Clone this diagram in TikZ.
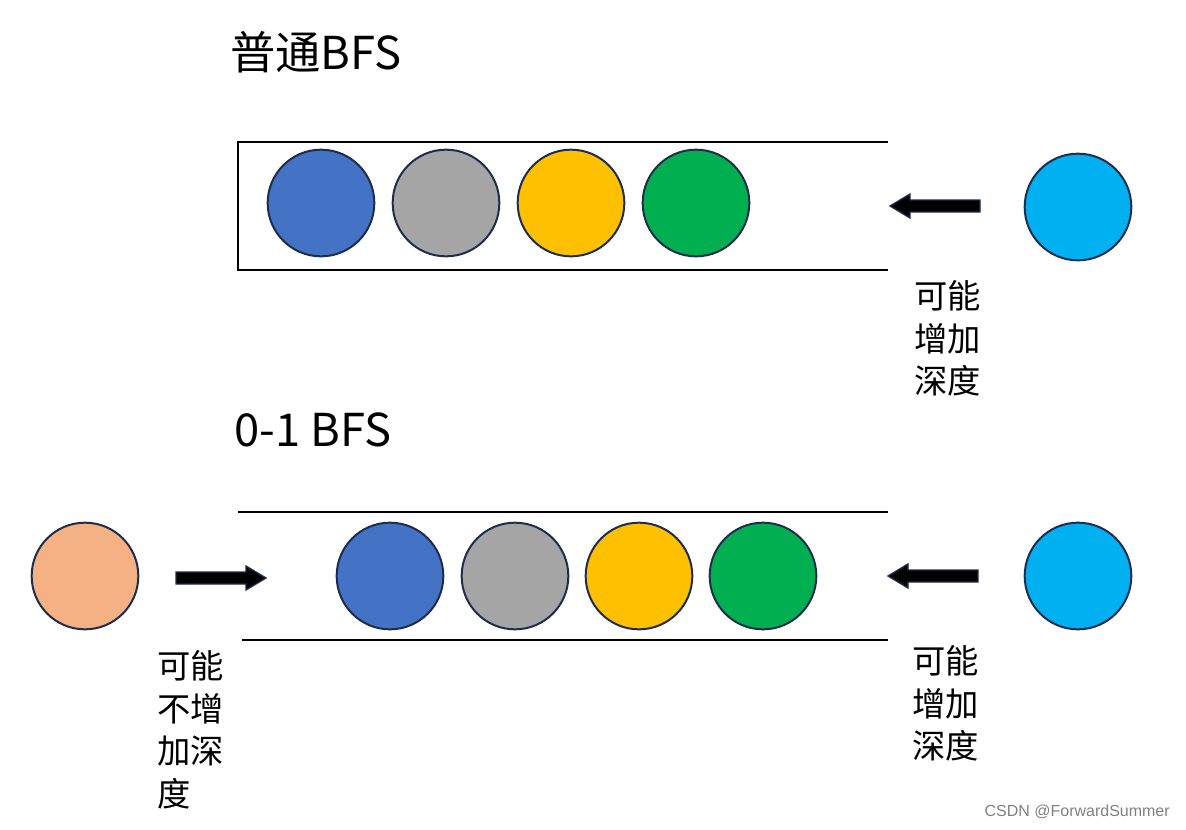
\documentclass[tikz,border=0pt]{standalone}
\usepackage{fontspec}
\setmainfont{Noto Sans CJK SC}
\newfontfamily\wm{Liberation Sans}
\begin{document}
\begin{tikzpicture}[x=0.75pt,y=-0.75pt]
\definecolor{edge}{HTML}{1F2D4D}
\tikzset{ball/.style={circle,draw=edge,line width=1.5pt,minimum size=80pt,inner sep=0pt},
 wall/.style={line width=2pt,black},
 lab/.style={font=\fontsize{25}{32}\selectfont,align=left,anchor=north west,inner sep=0pt},
 ttl/.style={font=\fontsize{34}{40}\selectfont,anchor=west,inner sep=0pt},
 barrow/.style={fill=black,draw=edge,line width=1pt}}
\useasboundingbox (0,0) rectangle (1186,829);
\node[ttl] (t1) at (230,52) {普通BFS};
\draw[wall] (888,142) -- (238,142) -- (238,270) -- (888,270);
\node[ball,fill={rgb,255:red,68;green,114;blue,196}] (a1) at (321,203) {};
\node[ball,fill={rgb,255:red,165;green,165;blue,165}] (a2) at (446,203) {};
\node[ball,fill={rgb,255:red,255;green,192;blue,0}] (a3) at (571,203) {};
\node[ball,fill={rgb,255:red,0;green,176;blue,80}] (a4) at (696,203) {};
\node[ball,fill={rgb,255:red,0;green,176;blue,240}] (r1) at (1078,207) {};
\draw[barrow] (980,200) -- (910,200) -- (910,194) -- (890,206) -- (910,218) -- (910,212) -- (980,212) -- cycle;
\node[lab] (l1) at (914,280) {可能\\增加\\深度};
\node[ttl] (t2) at (234,430) {0-1 BFS};
\draw[wall] (238,512) -- (888,512);
\draw[wall] (242,640) -- (888,640);
\node[ball,fill={rgb,255:red,68;green,114;blue,196}] (b1) at (390,576) {};
\node[ball,fill={rgb,255:red,165;green,165;blue,165}] (b2) at (515,576) {};
\node[ball,fill={rgb,255:red,255;green,192;blue,0}] (b3) at (639,576) {};
\node[ball,fill={rgb,255:red,0;green,176;blue,80}] (b4) at (763,576) {};
\node[ball,fill={rgb,255:red,0;green,176;blue,240}] (r2) at (1078,576) {};
\node[ball,fill={rgb,255:red,244;green,177;blue,131}] (p) at (85,576) {};
\draw[barrow] (978,570) -- (908,570) -- (908,564) -- (888,576) -- (908,588) -- (908,582) -- (978,582) -- cycle;
\draw[barrow] (176,572) -- (246,572) -- (246,566) -- (266,578) -- (246,590) -- (246,584) -- (176,584) -- cycle;
\node[lab] (l2) at (912,645) {可能\\增加\\深度};
\node[lab] (l3) at (157,650) {可能\\不增\\加深\\度};
\node[font=\wm\fontsize{12}{14}\selectfont,text=gray,anchor=east,inner sep=0pt] (w) at (1170,812) {CSDN @ForwardSummer};
\end{tikzpicture}
\end{document}
